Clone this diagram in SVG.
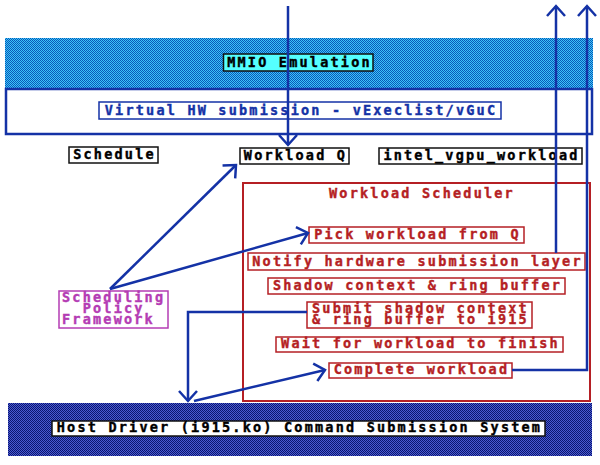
<svg xmlns="http://www.w3.org/2000/svg" width="600" height="465" viewBox="0 0 600 465">
<defs>
<pattern id="ditherTop" width="2" height="2" patternUnits="userSpaceOnUse">
<rect width="2" height="2" fill="#3cc4f8"/>
<rect x="0" y="0" width="1" height="1" fill="#0a58b8"/>
<rect x="1" y="1" width="1" height="1" fill="#0a58b8"/>
</pattern>
<pattern id="ditherHost" width="2" height="2" patternUnits="userSpaceOnUse">
<rect width="2" height="2" fill="#4a5ad0"/>
<rect x="0" y="0" width="1" height="1" fill="#0a1670"/>
<rect x="1" y="1" width="1" height="1" fill="#0a1670"/>
</pattern>
<marker id="arr" markerUnits="userSpaceOnUse" markerWidth="24" markerHeight="24" viewBox="-12 -12 24 24" refX="0" refY="0" orient="auto">
<path d="M-10,-9 L0,0 L-10,9" fill="none" stroke="#1432a6" stroke-width="2.5"/>
</marker>
</defs>
<style>
text{font-family:"DejaVu Sans Mono","Liberation Mono",monospace;font-weight:bold;font-size:13.5px;letter-spacing:2.2px;stroke-width:0.4px;}
.c{text-anchor:middle;}
.blk{fill:#000;stroke:#000;}
.blu{fill:#1432a6;stroke:#1432a6;}
.red{fill:#b51f24;stroke:#b51f24;}
.mag{fill:#b43cb4;stroke:#b43cb4;}
.bk{fill:#fff;stroke:#111;stroke-width:1.5;}
.bb{fill:#fff;stroke:#1432a6;stroke-width:1.5;}
.rb{fill:#fff;stroke:#b51f24;stroke-width:1.5;}
.mb{fill:#fff;stroke:#b43cb4;stroke-width:1.5;}
.conn{fill:none;stroke:#1432a6;stroke-width:2.5;}
</style>

<g id="mmio-band">
<rect x="5" y="38" width="588" height="51" fill="url(#ditherTop)"/>
<rect x="223.5" y="54" width="149.5" height="17" fill="#55ffff" stroke="#111" stroke-width="1.5"/>
<text class="c blk" x="299.5" y="67">MMIO Emulation</text>
</g>

<g id="virtual-hw">
<rect x="6" y="89" width="586" height="45" fill="#fff" stroke="#1432a6" stroke-width="2.5"/>
<rect class="bb" x="99" y="102" width="402" height="17"/>
<text class="c blu" x="301" y="115">Virtual HW submission - vExeclist/vGuC</text>
</g>

<g id="schedule">
<rect class="bk" x="69" y="147" width="89" height="16"/>
<text class="c blk" x="114.5" y="159">Schedule</text>
</g>

<g id="workload-q">
<rect class="bk" x="240" y="148" width="109" height="16"/>
<text class="c blk" x="295.5" y="160">Workload Q</text>
</g>

<g id="intel-vgpu-workload">
<rect class="bk" x="379" y="148" width="203" height="16"/>
<text class="c blk" x="481.5" y="160">intel_vgpu_workload</text>
</g>

<g id="workload-scheduler">
<rect x="243" y="183" width="347" height="218" fill="#fff" stroke="#b51f24" stroke-width="2"/>
<text class="c red" x="422" y="198">Workload Scheduler</text>
</g>

<g id="pick">
<rect class="rb" x="309" y="227" width="215" height="16"/>
<text class="c red" x="417.5" y="239">Pick workload from Q</text>
</g>

<g id="notify">
<rect class="rb" x="248" y="253" width="337" height="17"/>
<text class="c red" x="417.5" y="266">Notify hardware submission layer</text>
</g>

<g id="shadow">
<rect class="rb" x="268" y="278" width="297" height="16"/>
<text class="c red" x="417.5" y="290">Shadow context &amp; ring buffer</text>
</g>

<g id="submit">
<rect class="rb" x="307" y="302" width="225" height="26"/>
<text class="c red" x="420.5" y="313">Submit shadow context</text>
<text class="c red" x="420.5" y="324">&amp; ring buffer to i915</text>
</g>

<g id="wait">
<rect class="rb" x="276" y="337" width="287" height="15"/>
<text class="c red" x="420.5" y="348">Wait for workload to finish</text>
</g>

<g id="complete">
<rect class="rb" x="329" y="363" width="183" height="15"/>
<text class="c red" x="421.5" y="374">Complete workload</text>
</g>

<g id="policy">
<rect class="mb" x="59" y="291" width="109" height="37"/>
<text class="mag" x="62" y="302">Scheduling</text>
<text class="mag" x="62" y="313" xml:space="preserve">  Policy</text>
<text class="mag" x="62" y="324">Framework</text>
</g>

<g id="host-driver">
<rect x="8" y="403" width="584" height="53" fill="url(#ditherHost)"/>
<rect class="bk" x="52" y="421" width="493" height="15"/>
<text class="c blk" x="299.5" y="432">Host Driver (i915.ko) Command Submission System</text>
</g>

<g id="connectors">
<path class="conn" d="M288,6 V145" marker-end="url(#arr)"/>
<path class="conn" d="M556,253 V6" marker-end="url(#arr)"/>
<path class="conn" d="M512,370 H587 V6" marker-end="url(#arr)"/>
<path class="conn" d="M110,289 L236,165" marker-end="url(#arr)"/>
<path class="conn" d="M110,289 L308,233" marker-end="url(#arr)"/>
<path class="conn" d="M307,312 H188 V401" marker-end="url(#arr)"/>
<path class="conn" d="M194,401 L325,370" marker-end="url(#arr)"/>
</g>
</svg>
